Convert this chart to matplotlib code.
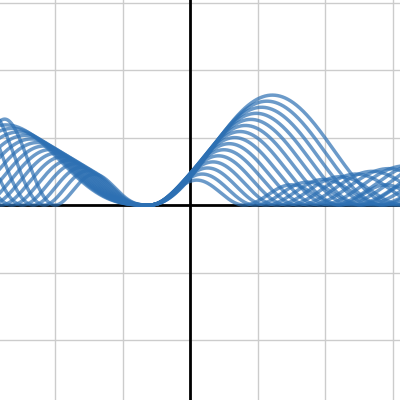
import numpy as np
import matplotlib
matplotlib.use("Agg")
import matplotlib.pyplot as plt

x0 = -0.6
widths = [1.40, 1.56, 1.72, 1.88, 2.04, 2.20, 2.36, 2.52, 2.68, 2.84, 3.00, 3.16, 3.32, 3.48, 3.64]
main_amps = [0.37, 0.46, 0.55, 0.64, 0.73, 0.82, 0.91, 1.00, 1.09, 1.18, 1.27, 1.36, 1.45, 1.54, 1.63]
side_amps = [0.30, 0.34, 0.38, 0.42, 0.46, 0.50, 0.54, 0.58, 0.62, 0.66, 0.70, 0.74, 0.78, 0.82, 0.86]
left_slope = 0.6

fig = plt.figure(figsize=(4, 4), dpi=100)
ax = fig.add_axes([0, 0, 1, 1])
xmin, xmax = -2.815, 3.11
ymin, ymax = -2.89, 3.04
ax.set_xlim(xmin, xmax); ax.set_ylim(ymin, ymax)
for g in range(-3, 4):
    ax.axvline(g, color="#cccccc", lw=1, zorder=0)
    ax.axhline(g, color="#cccccc", lw=1, zorder=0)
ax.axvline(0, color="black", lw=2, zorder=1)
ax.axhline(0, color="black", lw=2, zorder=1)
x = np.linspace(xmin, xmax, 1500)
d = x - x0
for W, A, S in zip(widths, main_amps, side_amps):
    s2 = np.sin(np.pi * d / W) ** 2
    y = np.where(d < 0, left_slope * np.abs(d) * s2,
                 np.where(d <= W, A * s2, S * s2))
    ax.plot(x, y, color="#2d70b3", lw=2.5, alpha=0.7, zorder=2)
ax.axis("off")
fig.savefig("out.png", dpi=100)
